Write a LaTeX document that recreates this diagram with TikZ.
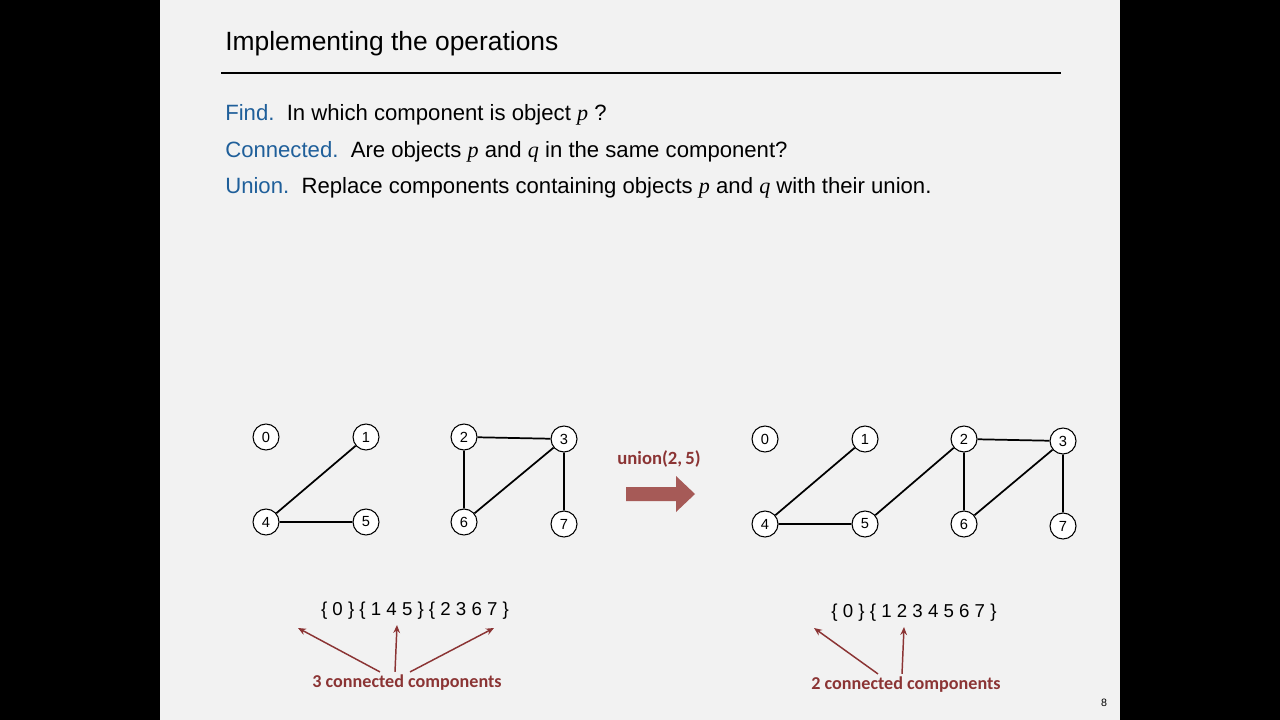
\documentclass[tikz,border=0pt]{standalone}
\usepackage{fontspec}
\setmainfont{Liberation Sans}
\newfontfamily\calfnt{Carlito}
\newfontfamily\srf{Liberation Serif}
\usetikzlibrary{arrows.meta}
\definecolor{slide}{HTML}{F2F2F2}
\definecolor{kwblue}{HTML}{1F5F9A}
\definecolor{dred}{HTML}{8B3434}
\definecolor{arr}{HTML}{A65A57}
\newcommand{\vv}[1]{{\srf\itshape #1}}
\begin{document}
\begin{tikzpicture}[x=0.75pt,y=-0.75pt,
  vtx/.style={circle,draw,line width=0.8pt,fill=white,minimum size=19.5pt,inner sep=0pt,font=\fontsize{11}{11}\selectfont},
  edge/.style={line width=1.3pt},
  body/.style={anchor=west,inner sep=0pt,font=\fontsize{16.6}{19}\selectfont},
  lbl/.style={font=\calfnt\bfseries\fontsize{13.6}{15}\selectfont,text=dred,inner sep=0pt},
  pt/.style={-{Stealth[length=6pt,width=5pt]},draw=dred,line width=1.1pt}]
\useasboundingbox (0,0) rectangle (1280,720);
\fill[black] (0,0) rectangle (1280,720);
\fill[slide] (160,0) rectangle (1120,720);
\node[body,font=\fontsize{19.8}{22}\selectfont] (title) at (225,44) {Implementing the operations};
\draw[line width=0.8pt] (221,73) -- (1061,73);
\node[body] (find) at (225,115) {\textcolor{kwblue}{Find.}\ \ In which component is object \vv{p} ?};
\node[body] (conn) at (225,152) {\textcolor{kwblue}{Connected.}\ \ Are objects \vv{p} and \vv{q} in the same component?};
\node[body] (un) at (225,188) {\textcolor{kwblue}{Union.}\ \ Replace components containing objects \vv{p} and \vv{q} with their union.};
% left graph
\node[vtx] (a0) at (266,437) {0};
\node[vtx] (a1) at (366,437) {1};
\node[vtx] (a4) at (266,522) {4};
\node[vtx] (a5) at (366,522) {5};
\node[vtx] (a2) at (464,437) {2};
\node[vtx] (a3) at (564,439) {3};
\node[vtx] (a6) at (464,522) {6};
\node[vtx] (a7) at (564,524) {7};
\draw[edge] (a1)--(a4) (a4)--(a5) (a2)--(a3) (a2)--(a6) (a3)--(a6) (a3)--(a7);
% right graph
\node[vtx] (b0) at (765,439) {0};
\node[vtx] (b1) at (865,439) {1};
\node[vtx] (b4) at (765,524) {4};
\node[vtx] (b5) at (865,524) {5};
\node[vtx] (b2) at (964,439) {2};
\node[vtx] (b3) at (1063,441) {3};
\node[vtx] (b6) at (964,524) {6};
\node[vtx] (b7) at (1063,526) {7};
\draw[edge] (b1)--(b4) (b4)--(b5) (b5)--(b2) (b2)--(b3) (b2)--(b6) (b3)--(b6) (b3)--(b7);
% union arrow
\node[lbl,font=\calfnt\bfseries\fontsize{14}{15}\selectfont] (ul) at (659,459) {union(2,\,5)};
\fill[arr] (626,487) -- (676,487) -- (676,476) -- (695,494) -- (676,512) -- (676,501) -- (626,501) -- cycle;
% sets
\node[inner sep=0pt,font=\fontsize{14}{15}\selectfont] (s1) at (415,611) {\{ 0 \} \{ 1 4 5 \} \{ 2 3 6 7 \}};
\node[inner sep=0pt,font=\fontsize{14}{15}\selectfont] (s2) at (914,613) {\{ 0 \} \{ 1 2 3 4 5 6 7 \}};
\node[lbl] (c3) at (407,683) {3 connected components};
\node[lbl] (c2) at (906,685) {2 connected components};
\coordinate (t1) at (298,628); \coordinate (t2) at (397,625); \coordinate (t3) at (494,628);
\coordinate (t4) at (814,628); \coordinate (t5) at (904,627);
\draw[pt] (c3.north -| 380,0) ++(0,-3) -- (t1);
\draw[pt] (c3.north -| 395,0) ++(0,-3) -- (t2);
\draw[pt] (c3.north -| 410,0) ++(0,-3) -- (t3);
\draw[pt] (c2.north -| 878,0) ++(0,-3) -- (t4);
\draw[pt] (c2.north -| 902,0) ++(0,-3) -- (t5);
\node[inner sep=0pt,font=\fontsize{8}{9}\selectfont] (pg) at (1104,703) {8};
\end{tikzpicture}
\end{document}
